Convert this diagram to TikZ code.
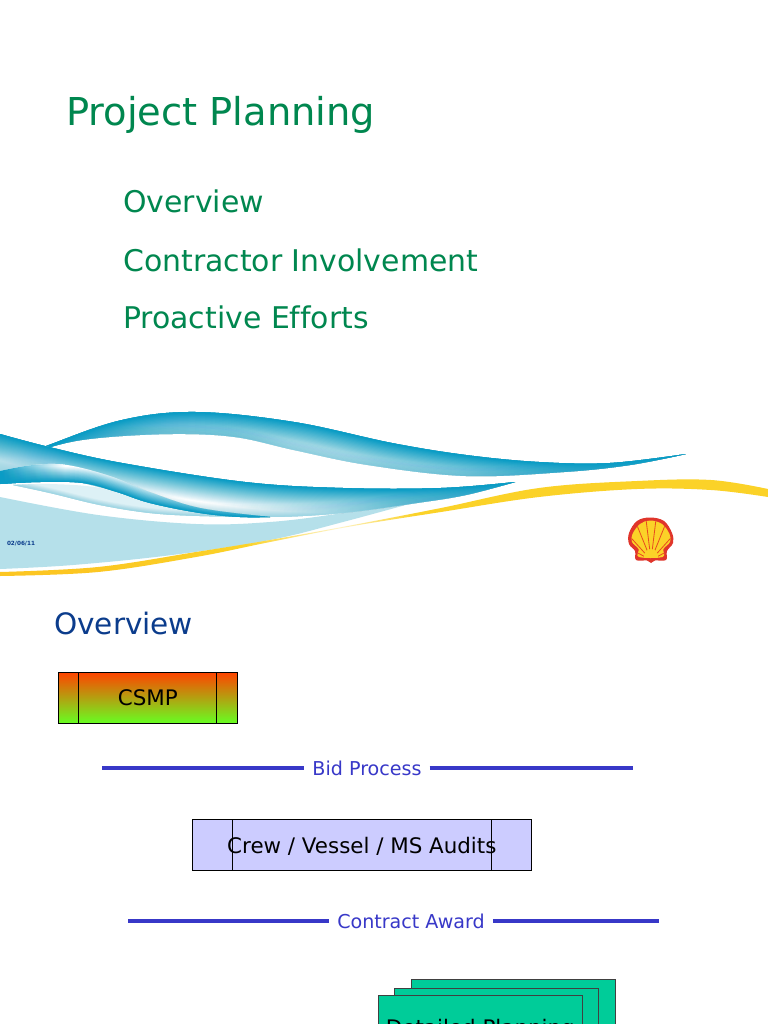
\documentclass[tikz,border=0pt]{standalone}
\usepackage{fontspec}
\setmainfont[Ligatures=NoCommon]{DejaVu Sans}
\definecolor{titlegreen}{HTML}{00874F}
\definecolor{navy}{HTML}{0B3C8C}
\definecolor{rulecol}{HTML}{3838C8}
\definecolor{wavedark}{HTML}{0A9CC5}
\definecolor{wavepale}{HTML}{9FD6E4}
\definecolor{areapale}{HTML}{B5E0EA}
\definecolor{shellyellow}{HTML}{FBD228}
\definecolor{shellred}{HTML}{E0352B}
\definecolor{lilac}{HTML}{CCCCFF}
\definecolor{seagreen}{HTML}{00CC99}
\definecolor{csmptop}{HTML}{FF4400}
\definecolor{csmpbot}{HTML}{66FF22}
\pgfdeclarehorizontalshading{ribbonfade}{100bp}{
  color(0bp)=(shellyellow!85!orange); color(30bp)=(shellyellow!85!orange); color(41bp)=(shellyellow);
  color(47bp)=(shellyellow!25); color(52bp)=(shellyellow); color(100bp)=(shellyellow)}
\newcommand{\fs}[1]{\fontsize{#1}{#1}\selectfont}
% contour gradient along an edge: linear ramp from nothing to full colour
\newcommand{\contour}[4]{%
  \foreach \i in {1,...,#4}{%
    \pgfmathsetmacro\w{2*#3*(1-(\i-1)/#4)}%
    \pgfmathsetmacro\op{1/(#4-\i+1)}%
    \draw[draw=#2, draw opacity=\op, line width=\w pt, line join=round] #1;
  }}
\newcommand{\defcurve}[2]{%
  \expandafter\def\csname #1\endcsname{plot[smooth,tension=.6] coordinates {#2}}%
  \expandafter\def\csname j#1\endcsname{-- plot[smooth,tension=.6] coordinates {#2}}}
\defcurve{upA}{(7,463)(49,445)(122,420)(196,412)(294,422)(392,443)(466,455)(539,462)(610,463)(686,454)}
\defcurve{loA}{(686,454)(630,465)(564,472)(466,476)(368,465)(294,450)(235,437)(172,434)(98,438)(54,446)(7,463)}
\defcurve{upB}{(0,434)(49,447)(122,463)(245,482)(343,488)(441,488)(515,482)}
\defcurve{loB}{(515,482)(466,495)(417,503)(343,513)(270,517)(200,514)(150,503)(117,492)(83,483)(40,473)(0,472)}
\defcurve{upC}{(0,471)(33,465)(67,465)(110,476)(150,492)(200,508)(270,517)}
\defcurve{loC}{(270,517)(240,517)(200,513)(150,503)(117,492)(83,483)(40,482)(0,484)}
\defcurve{upD}{(13,485)(50,484)(100,488)(150,503)(200,513)(270,517)}
\defcurve{loD}{(270,517)(200,516)(150,513)(100,505)(50,493)(13,485)}
\tikzset{
  title/.style={anchor=base west,inner sep=0pt,text=titlegreen},
  box/.style={draw=black,line width=.7pt,anchor=north west,inner sep=0pt,minimum height=51pt,font=\fs{21.4}},
  rulelabel/.style={text=rulecol,font=\fs{19.1},inner xsep=8pt,inner ysep=0pt},
  ruleline/.style={draw=rulecol,line width=3.3pt},
  sheet/.style={draw=black!75,line width=.7pt,fill=seagreen,anchor=north west,inner sep=0pt,minimum width=204pt,minimum height=68pt,font=\fs{21.4}}
}
\begin{document}
\begin{tikzpicture}[x=1pt,y=-1pt]
\useasboundingbox (0,0) rectangle (768,1024);
\clip (0,0) rectangle (768,1024);
\fill[white] (0,0) rectangle (768,1024);

% text
\node[title,font=\fs{38.4}] (ttl) at (66,126) {Project Planning};
\node[title,font=\fs{29.9}] (s1) at (123,213) {Overview};
\node[title,font=\fs{29.9}] (s2) at (123,271) {Contractor Involvement};
\node[title,font=\fs{29.9}] (s3) at (123,328) {Proactive Efforts};

% pale area
\fill[areapale] plot[smooth,tension=.6] coordinates {(0,497)(98,515)(196,524)(270,522)(343,513)(431,498)}
  -- plot[smooth,tension=.6] coordinates {(431,498)(343,522)(270,540)(172,555)(73,565)(0,569)} -- cycle;
% yellow ribbon
\shade[shading=ribbonfade] plot[smooth,tension=.6] coordinates {(0,572)(98,567)(196,552)(270,540)(353,525)(441,508)(539,488)(637,481)(711,480)(768,489)}
  -- plot[smooth,tension=.6] coordinates {(768,497)(711,490)(637,489)(539,497)(441,512)(353,526)(270,542)(196,557)(98,572)(0,576)} -- cycle;

% wave A
\draw[wavedark!65,line width=.7pt] (7,463) -- (49,445);
\begin{scope}
  \clip \upA \jloA -- cycle;
  \fill[white] (0,400) rectangle (768,500);
  \shade[left color=wavepale!85,right color=white] (40,400) rectangle (245,500);
  \contour{\loA}{wavepale}{9}{12}
  \contour{\upA}{wavedark}{30}{24}
\end{scope}
% wave B
\begin{scope}
  \clip \upB \jloB -- (0,434) -- cycle;
  \fill[white] (0,420) rectangle (768,530);
  \shade[left color=wavepale!70,right color=white] (0,420) rectangle (90,530);
  \contour{\loB}{wavepale}{12}{12}
  \contour{\upB}{wavedark}{25}{24}
\end{scope}
% wave D
\fill[wavepale!35] \upD \jloD -- cycle;
\begin{scope}
  \clip \upD \jloD -- cycle;
  \contour{\loD}{wavepale}{5}{8}
\end{scope}
% wave C
\begin{scope}
  \clip \upC \jloC -- cycle;
  \fill[white] (0,450) rectangle (300,530);
  \shade[left color=wavedark,right color=white] (0,450) rectangle (65,530);
  \contour{\loC}{wavedark}{15}{20}
\end{scope}

% date
\node[text=navy,font=\fs{5.7}\bfseries,inner sep=0pt] (date) at (21,543.5) {02/06/11};

% shell logo
\fill[shellred] plot[smooth cycle,tension=.6] coordinates {(650,517.5)(664,521)(672,533)(673,543)(667,551)(666,560)(655,560.5)(651,563)(647,560.5)(636,560)(635,551)(629,544)(629,533)(637,521)};
\begin{scope}
  \clip plot[smooth cycle,tension=.6] coordinates {(650,520.5)(662,524)(669.5,534)(670,542)(663.5,549)(662.5,557)(639,557)(638.5,549)(632,542)(632.5,534)(640,524)};
  \fill[shellyellow] (625,515) rectangle (678,565);
  \foreach \a in {-62,-42,-22,-7,7,22,42,62}
    \draw[shellred!70!orange,line width=.8pt] (651,560) -- ++(90+\a:-50);
  \fill[shellyellow] (651,556) circle (7);
\end{scope}

% overview
\node[anchor=base west,inner sep=0pt,text=navy,font=\fs{29.5}] (ovw) at (54,634) {Overview};

% CSMP
\node[box,minimum width=179pt,top color=csmptop,bottom color=csmpbot] (csmp) at (58,672) {CSMP};
\draw[line width=.7pt] ([xshift=20pt]csmp.north west) -- ([xshift=20pt]csmp.south west);
\draw[line width=.7pt] ([xshift=-21pt]csmp.north east) -- ([xshift=-21pt]csmp.south east);

% bid process
\node[rulelabel] (bid) at (367,768) {Bid Process};
\coordinate (bidL) at (102,768);
\coordinate (bidR) at (633,768);
\draw[ruleline] (bidL) -- (bid.west);
\draw[ruleline] (bid.east) -- (bidR);

% audits
\node[box,minimum width=339pt,fill=lilac] (crew) at (192,819) {\raisebox{-8.3pt}[8pt][8pt]{Crew / Vessel / MS Audits}};
\draw[line width=.7pt] ([xshift=40pt]crew.north west) -- ([xshift=40pt]crew.south west);
\draw[line width=.7pt] ([xshift=-40pt]crew.north east) -- ([xshift=-40pt]crew.south east);

% contract award
\node[rulelabel] (award) at (411,921) {Contract Award};
\coordinate (awdL) at (128,921);
\coordinate (awdR) at (659,921);
\draw[ruleline] (awdL) -- (award.west);
\draw[ruleline] (award.east) -- (awdR);

% detailed planning
\node[sheet] (p3) at (411,979) {};
\node[sheet] (p2) at (394,988) {};
\node[sheet] (p1) at (378,995) {Detailed Planning};
\end{tikzpicture}
\end{document}
